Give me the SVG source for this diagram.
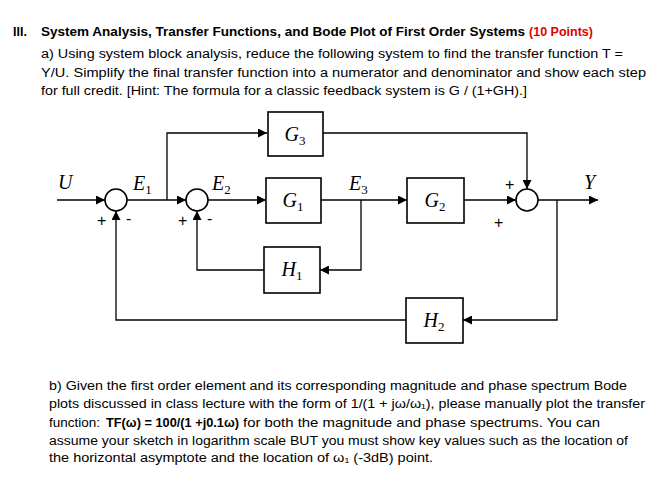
<svg xmlns="http://www.w3.org/2000/svg" width="670" height="503" viewBox="0 0 670 503">
<style>
.t{font-family:"Liberation Sans",Arial,sans-serif;font-size:12.5px;fill:#000}
.b{font-weight:bold}
.r{fill:#e00000;font-weight:bold}
.m{font-family:"Liberation Serif","Times New Roman",serif;font-style:italic;font-size:20px;fill:#000}
.s{font-size:13px;font-style:normal}
.sg{font-family:"Liberation Sans",Arial,sans-serif;font-size:16px;fill:#000}
.box{fill:#fff;stroke:#000;stroke-width:1.6}
.ln{fill:none;stroke:#000;stroke-width:1.3}
</style>
<defs>
<marker id="a" viewBox="0 0 10 10" refX="10" refY="5" markerWidth="9" markerHeight="9" markerUnits="userSpaceOnUse" orient="auto"><path d="M0,0 L10,5 L0,10 z" fill="#000"/></marker>
</defs>
<rect width="670" height="503" fill="#fff"/>
<text class="t" y="36"><tspan class="b" x="13">III.</tspan><tspan class="b" x="41" textLength="484" lengthAdjust="spacingAndGlyphs">System Analysis, Transfer Functions, and Bode Plot of First Order Systems</tspan><tspan class="r" x="529" textLength="64" lengthAdjust="spacingAndGlyphs">(10 Points)</tspan></text>
<text class="t" x="41" y="58" textLength="582" lengthAdjust="spacingAndGlyphs">a) Using system block analysis, reduce the following system to find the transfer function T =</text>
<text class="t" x="41" y="77" textLength="605" lengthAdjust="spacingAndGlyphs">Y/U. Simplify the final transfer function into a numerator and denominator and show each step</text>
<text class="t" x="41" y="95" textLength="486" lengthAdjust="spacingAndGlyphs">for full credit. [Hint: The formula for a classic feedback system is G / (1+GH).]</text>

<g id="connectors">
<path class="ln" d="M57,200 H105" marker-end="url(#a)"/>
<path class="ln" d="M127,200 H186" marker-end="url(#a)"/>
<path class="ln" d="M167,200 V133 H267" marker-end="url(#a)"/>
<path class="ln" d="M323,133 H527 V189" marker-end="url(#a)"/>
<path class="ln" d="M208,200 H266" marker-end="url(#a)"/>
<path class="ln" d="M321,200 H407" marker-end="url(#a)"/>
<path class="ln" d="M361,200 V270 H320" marker-end="url(#a)"/>
<path class="ln" d="M264,270 H197 V211" marker-end="url(#a)"/>
<path class="ln" d="M464,200 H516" marker-end="url(#a)"/>
<path class="ln" d="M538,200 H598" marker-end="url(#a)"/>
<path class="ln" d="M557,200 V320 H463" marker-end="url(#a)"/>
<path class="ln" d="M406,320 H116 V211" marker-end="url(#a)"/>
</g>

<g id="sum1"><circle cx="116" cy="200" r="11" class="box"/><text class="sg" x="97" y="226">+</text><text class="sg" x="126" y="224">-</text></g>
<g id="sum2"><circle cx="197" cy="200" r="11" class="box"/><text class="sg" x="178" y="226">+</text><text class="sg" x="207" y="224">-</text></g>
<g id="sum3"><circle cx="527" cy="200" r="11" class="box"/><text class="sg" x="505" y="190">+</text><text class="sg" x="494" y="228">+</text></g>

<g id="G3"><rect class="box" x="268" y="112" width="55" height="44"/><text class="m" x="295" y="141" text-anchor="middle">G<tspan class="s" dy="4">3</tspan></text></g>
<g id="G1"><rect class="box" x="266" y="178" width="55" height="45"/><text class="m" x="293" y="207" text-anchor="middle">G<tspan class="s" dy="4">1</tspan></text></g>
<g id="G2"><rect class="box" x="407" y="178" width="57" height="45"/><text class="m" x="435" y="207" text-anchor="middle">G<tspan class="s" dy="4">2</tspan></text></g>
<g id="H1"><rect class="box" x="264" y="247" width="56" height="46"/><text class="m" x="292" y="276" text-anchor="middle">H<tspan class="s" dy="4">1</tspan></text></g>
<g id="H2"><rect class="box" x="406" y="298" width="57" height="45"/><text class="m" x="434" y="327" text-anchor="middle">H<tspan class="s" dy="4">2</tspan></text></g>

<g id="labels">
<text class="m" x="58" y="189">U</text>
<text class="m" x="133" y="190">E<tspan class="s" dy="4">1</tspan></text>
<text class="m" x="212" y="190">E<tspan class="s" dy="4">2</tspan></text>
<text class="m" x="349" y="190">E<tspan class="s" dy="4">3</tspan></text>
<text class="m" x="584" y="189">Y</text>
</g>

<text class="t" x="49" y="390" textLength="578" lengthAdjust="spacingAndGlyphs">b) Given the first order element and its corresponding magnitude and phase spectrum Bode</text>
<text class="t" x="49" y="408" textLength="596" lengthAdjust="spacingAndGlyphs">plots discussed in class lecture with the form of 1/(1 + jω/ω₁), please manually plot the transfer</text>
<text class="t" x="49" y="427" textLength="51" lengthAdjust="spacingAndGlyphs">function:</text>
<text class="t b" x="106" y="427" textLength="133" lengthAdjust="spacingAndGlyphs">TF(ω) = 100/(1 +j0.1ω)</text>
<text class="t" x="243" y="427" textLength="357" lengthAdjust="spacingAndGlyphs">for both the magnitude and phase spectrums.  You can</text>
<text class="t" x="49" y="445" textLength="579" lengthAdjust="spacingAndGlyphs">assume your sketch in logarithm scale BUT you must show key values such as the location of</text>
<text class="t" x="49" y="462" textLength="384" lengthAdjust="spacingAndGlyphs">the horizontal asymptote and the location of ω₁ (-3dB) point.</text>
</svg>
